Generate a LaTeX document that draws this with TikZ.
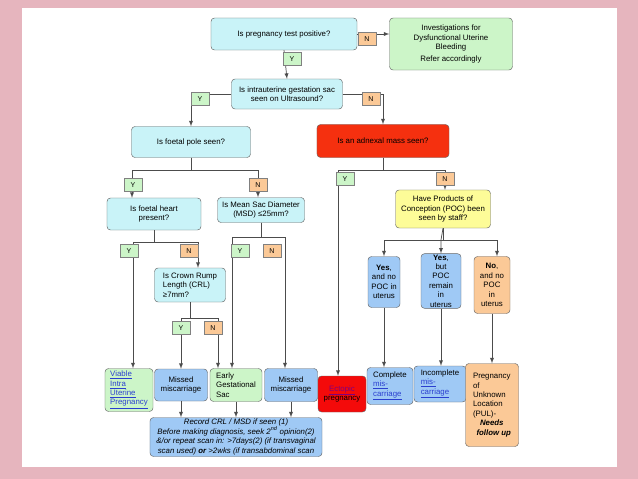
\documentclass[tikz,border=0pt]{standalone}
\usepackage{fontspec}
\setmainfont{Liberation Sans}
\usetikzlibrary{positioning}
\definecolor{cyanbox}{HTML}{C9F3F8}
\definecolor{greenbox}{HTML}{CCF5C8}
\definecolor{bluebox}{HTML}{9FC9F5}
\definecolor{orangebox}{HTML}{FBC997}
\definecolor{yellowbox}{HTML}{FDFC98}
\definecolor{redbox}{HTML}{F5300F}
\definecolor{ectored}{HTML}{F40A0A}
\definecolor{pinkbg}{HTML}{E6B5BE}
\definecolor{linkblue}{HTML}{2A3FD0}
\newcommand{\lnk}[1]{\textcolor{linkblue}{\underline{#1}}}
\begin{document}
\begin{tikzpicture}[x=0.03cm, y=-0.03cm,
    box/.style={draw=black!60, rounded corners=3pt, align=center, inner sep=1pt,
                font=\fontsize{6.7}{8}\selectfont},
    q/.style={box, fill=cyanbox},
    res/.style={box, fill=bluebox},
    ok/.style={box, fill=greenbox},
    yn/.style={draw=black!50, minimum width=0.55cm, minimum height=0.4cm, inner sep=0pt,
               font=\fontsize{6}{7}\selectfont},
    yes/.style={yn, fill=greenbox},
    no/.style={yn, fill=orangebox},
    arr/.style={draw=black!70, line width=0.6pt, -latex}
]
\fill[pinkbg] (0,0) rectangle (638,479);
\fill[white] (22,8) rectangle (617,467);

% questions
\node[q, minimum width=4.38cm, minimum height=0.96cm] (preg) at (284,34) {Is pregnancy test positive?};
\node[ok, minimum width=3.69cm, minimum height=1.56cm] (invest) at (451,44)
    {Investigations for\\Dysfunctional Uterine\\Bleeding\\[2pt]Refer accordingly};
\node[q, minimum width=3.33cm, minimum height=0.9cm] (gest) at (287,94)
    {Is intrauterine gestation sac\\seen on Ultrasound?};
\node[q, minimum width=3.57cm, minimum height=0.93cm] (fpole) at (191,142) {Is foetal pole seen?};
\node[box, fill=redbox, minimum width=3.96cm, minimum height=0.99cm] (adnex) at (383,141)
    {Is an adnexal mass seen?};
\node[q, minimum width=2.82cm, minimum height=0.96cm] (heart) at (154,214) {Is foetal heart\\present?};
\node[q, minimum width=2.61cm, minimum height=0.75cm] (msd) at (261,210)
    {Is Mean Sac Diameter\\(MSD) ≤25mm?};
\node[box, fill=yellowbox, minimum width=2.85cm, minimum height=1.14cm] (poc) at (443,209)
    {Have Products of\\Conception (POC) been\\seen by staff?};
\node[q, minimum width=2.13cm, minimum height=1.02cm, align=left] (crl) at (190,285)
    {Is Crown Rump\\Length (CRL)\\≥7mm?};
\node[res, minimum width=0.96cm, minimum height=1.53cm] (yes1) at (384,282)
    {\textbf{Yes},\\and no\\POC in\\uterus};
\node[res, minimum width=1.2cm, minimum height=1.47cm] (yes2) at (441,281)
    {\textbf{Yes},\\but\\POC\\remain\\in\\uterus};
\node[box, fill=orangebox, minimum width=1.08cm, minimum height=1.71cm] (nopoc) at (492,285)
    {\textbf{No},\\and no\\POC\\in\\uterus};

% outcomes
\node[ok, minimum width=1.44cm, minimum height=1.29cm, align=left] (viable) at (129,390)
    {\lnk{Viable}\\\lnk{Intra}\\\lnk{Uterine}\\\lnk{Pregnancy}};
\node[res, minimum width=1.59cm, minimum height=0.96cm] (miss1) at (181,385) {Missed\\miscarriage};
\node[ok, minimum width=1.56cm, minimum height=0.99cm, align=left] (early) at (236,385)
    {Early\\Gestational\\Sac};
\node[res, minimum width=1.59cm, minimum height=0.99cm] (miss2) at (291,385) {Missed\\miscarriage};
\node[box, fill=ectored, minimum width=1.44cm, minimum height=1.08cm] (ecto) at (342,394)
    {\textcolor{violet}{\underline{Ectopic}}\\pregnancy};
\node[res, minimum width=1.38cm, minimum height=1.11cm, align=left] (compl) at (390,386)
    {Complete\\\lnk{mis-}\\\lnk{carriage}};
\node[res, minimum width=1.56cm, minimum height=1.08cm, align=left] (incompl) at (440,384)
    {Incomplete\\\lnk{mis-}\\\lnk{carriage}};
\node[box, fill=orangebox, minimum width=1.59cm, minimum height=2.49cm, align=left] (pul) at (492,405)
    {Pregnancy\\of\\Unknown\\Location\\(PUL)-\\\hspace*{6pt}\textbf{\textit{Needs}}\\\hspace*{3pt}\textbf{\textit{follow up}}};
\node[res, minimum width=5.16cm, minimum height=1.17cm, font=\fontsize{6.7}{8}\selectfont\itshape] (record) at (236,437)
    {Record CRL / MSD if seen (1)\\Before making diagnosis, seek 2\textsuperscript{nd} opinion(2)\\
     \&/or repeat scan in: >7days(2) (if transvaginal\\scan used) \textbf{or} >2wks (if transabdominal scan};

% junctions
\coordinate (jf1) at (132,170);
\coordinate (jf2) at (258,170);
\coordinate (ja1) at (338,170);
\coordinate (ja2) at (445,170);
\coordinate (jh1) at (133,242);
\coordinate (jh2) at (198,242);
\coordinate (jc1) at (181,318);
\coordinate (jc2) at (218,318);
\coordinate (jm1) at (232,237);
\coordinate (jm2) at (285,237);
\coordinate (jp1) at (384,240);
\coordinate (jp2) at (441,240);
\coordinate (jp3) at (497,240);

% connectors
\draw[arr] (preg.east) -- (invest.west |- preg.east);
\draw[arr] (preg.south) -- (gest.north);
\draw[arr] (gest.west) -| (fpole.north);
\draw[arr] (gest.east) -| (adnex.north);
\draw[arr] (fpole.south) |- (jf1) -- (jf1 |- heart.north);
\draw[arr] (fpole.south) |- (jf2) -- (jf2 |- msd.north);
\draw[arr] (adnex.south) |- (ja1) -- (ja1 |- ecto.north);
\draw[arr] (adnex.south) |- (ja2) -- (ja2 |- poc.north);
\draw[arr] (heart.south) |- (jh1) -- (jh1 |- viable.north);
\draw[arr] (heart.south) |- (jh2) -- (jh2 |- crl.north);
\draw[arr] (crl.south) |- (jc1) -- (jc1 |- miss1.north);
\draw[arr] (crl.south) |- (jc2) -- (jc2 |- early.north);
\draw[arr] (msd.south) |- (jm1) -- (jm1 |- early.north);
\draw[arr] (msd.south) |- (jm2) -- (jm2 |- miss2.north);
\draw[arr] (poc.south) |- (jp1) -- (jp1 |- yes1.north);
\draw[arr] (poc.south) -- (jp2) -- (jp2 |- yes2.north);
\draw[arr] (poc.south) |- (jp3) -- (jp3 |- nopoc.north);
\draw[arr] (yes1.south) -- (yes1.south |- compl.north);
\draw[arr] (yes2.south) -- (yes2.south |- incompl.north);
\draw[arr] (nopoc.south) -- (nopoc.south |- pul.north);
\draw[arr] (miss1.south) -- (miss1.south |- record.north);
\draw[arr] (early.south) -- (early.south |- record.north);
\draw[arr] (miss2.south) -- (miss2.south |- record.north);

% Y / N labels
\node[no]  (l1)  at (367,39)  {N};
\node[yes] (l2)  at (292,59)  {Y};
\node[yes] (l3)  at (200,99)  {Y};
\node[no]  (l4)  at (371,99)  {N};
\node[yes] (l5)  at (133,185) {Y};
\node[no]  (l6)  at (258,185) {N};
\node[yes] (l7)  at (345,179) {Y};
\node[no]  (l8)  at (445,179) {N};
\node[yes] (l9)  at (129,251) {Y};
\node[no]  (l10) at (189,251) {N};
\node[yes] (l11) at (240,251) {Y};
\node[no]  (l12) at (272,251) {N};
\node[yes] (l13) at (181,328) {Y};
\node[no]  (l14) at (213,328) {N};

\useasboundingbox (0,0) rectangle (638,479);
\end{tikzpicture}
\end{document}
